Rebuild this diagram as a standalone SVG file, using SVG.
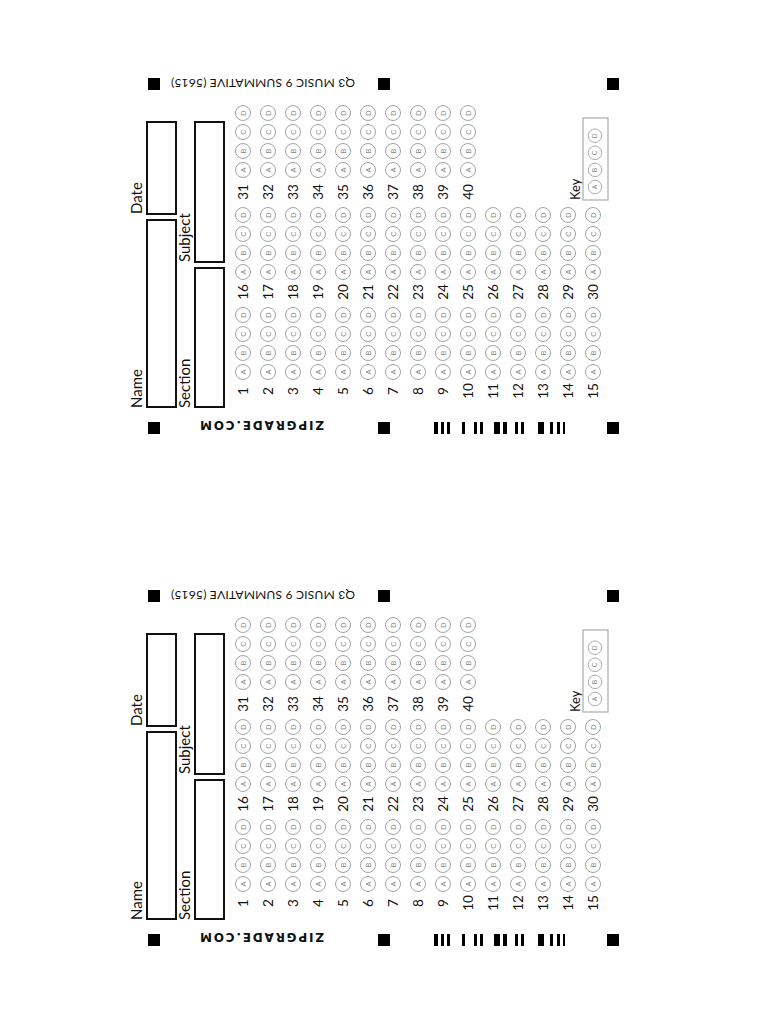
<svg xmlns="http://www.w3.org/2000/svg" xmlns:xlink="http://www.w3.org/1999/xlink" width="768" height="1024" viewBox="0 0 768 1024">
<style>
.n{font-family:Lato,"Liberation Sans",sans-serif;font-size:13.5px;fill:#111;text-anchor:middle}
.l{font-family:"Liberation Sans",sans-serif;font-size:7.5px;fill:#888;text-anchor:middle}
.c{fill:#fff;stroke:#999;stroke-width:0.9}
.lab{font-family:Lato,"Liberation Sans",sans-serif;font-size:15px;fill:#111}
.box{fill:none;stroke:#111;stroke-width:2}
.m{fill:#000}
</style>
<defs>
<g id="q">
<circle class="c" cx="0" cy="0" r="7.5"/><text class="l" transform="translate(2.7,0) rotate(-90)">A</text>
<circle class="c" cx="0" cy="-19" r="7.5"/><text class="l" transform="translate(2.7,-19) rotate(-90)">B</text>
<circle class="c" cx="0" cy="-38" r="7.5"/><text class="l" transform="translate(2.7,-38) rotate(-90)">C</text>
<circle class="c" cx="0" cy="-57" r="7.5"/><text class="l" transform="translate(2.7,-57) rotate(-90)">D</text>
</g>
<g id="sheet">
<g id="markers">
<rect class="m" x="148" y="78" width="12" height="12"/><rect class="m" x="378" y="78" width="12" height="12"/><rect class="m" x="607" y="78" width="12" height="12"/>
<rect class="m" x="148" y="422" width="12" height="12"/><rect class="m" x="378" y="422" width="12" height="12"/><rect class="m" x="607" y="422" width="12" height="12"/>
</g>
<text transform="translate(263,79) rotate(180)" font-family="Lato,'Liberation Sans',sans-serif" font-size="12" fill="#111" text-anchor="middle" textLength="184">Q3 MUSIC 9 SUMMATIVE (5615)</text>
<text transform="translate(262,421) rotate(180)" font-family="'DejaVu Sans',sans-serif" font-weight="600" font-size="12" fill="#111" text-anchor="middle" textLength="124">ZIPGRADE.COM</text>
<g id="barcode" class="m">
<rect x="434" y="422" width="4" height="12"/><rect x="441" y="422" width="3" height="12"/><rect x="447" y="422" width="3" height="12"/><rect x="462" y="422" width="3" height="12"/><rect x="474" y="422" width="3" height="12"/><rect x="480" y="422" width="3" height="12"/><rect x="494" y="422" width="6" height="12"/><rect x="503" y="422" width="4" height="12"/><rect x="515" y="422" width="3" height="12"/><rect x="521" y="422" width="3" height="12"/><rect x="538" y="422" width="6" height="12"/><rect x="550" y="422" width="3" height="12"/><rect x="557" y="422" width="3" height="12"/><rect x="563" y="422" width="2" height="12"/>
</g>
<g id="fields">
<rect class="box" x="147" y="220" width="29" height="187"/><text class="lab" transform="translate(142,408) rotate(-90)">Name</text>
<rect class="box" x="147" y="122" width="29" height="92"/><text class="lab" transform="translate(142,214) rotate(-90)">Date</text>
<rect class="box" x="195" y="268" width="29" height="139"/><text class="lab" transform="translate(190,408) rotate(-90)">Section</text>
<rect class="box" x="195" y="122" width="29" height="140"/><text class="lab" transform="translate(190,262) rotate(-90)">Subject</text>
</g>
<g id="key">
<rect x="583" y="118" width="25" height="82" fill="none" stroke="#aaa" stroke-width="1.2"/>
<use xlink:href="#q" transform="translate(595,187) scale(0.9)"/>
<text class="lab" style="font-size:13px" transform="translate(580,200) rotate(-90)">Key</text>
</g>
<g id="col1">
<g transform="translate(243,0)"><text class="n" transform="translate(4.5,391) rotate(-90)">1</text><use xlink:href="#q" y="372"/></g>
<g transform="translate(268,0)"><text class="n" transform="translate(4.5,391) rotate(-90)">2</text><use xlink:href="#q" y="372"/></g>
<g transform="translate(293,0)"><text class="n" transform="translate(4.5,391) rotate(-90)">3</text><use xlink:href="#q" y="372"/></g>
<g transform="translate(318,0)"><text class="n" transform="translate(4.5,391) rotate(-90)">4</text><use xlink:href="#q" y="372"/></g>
<g transform="translate(343,0)"><text class="n" transform="translate(4.5,391) rotate(-90)">5</text><use xlink:href="#q" y="372"/></g>
<g transform="translate(368,0)"><text class="n" transform="translate(4.5,391) rotate(-90)">6</text><use xlink:href="#q" y="372"/></g>
<g transform="translate(393,0)"><text class="n" transform="translate(4.5,391) rotate(-90)">7</text><use xlink:href="#q" y="372"/></g>
<g transform="translate(418,0)"><text class="n" transform="translate(4.5,391) rotate(-90)">8</text><use xlink:href="#q" y="372"/></g>
<g transform="translate(443,0)"><text class="n" transform="translate(4.5,391) rotate(-90)">9</text><use xlink:href="#q" y="372"/></g>
<g transform="translate(468,0)"><text class="n" transform="translate(4.5,391) rotate(-90)">10</text><use xlink:href="#q" y="372"/></g>
<g transform="translate(493,0)"><text class="n" transform="translate(4.5,391) rotate(-90)">11</text><use xlink:href="#q" y="372"/></g>
<g transform="translate(518,0)"><text class="n" transform="translate(4.5,391) rotate(-90)">12</text><use xlink:href="#q" y="372"/></g>
<g transform="translate(543,0)"><text class="n" transform="translate(4.5,391) rotate(-90)">13</text><use xlink:href="#q" y="372"/></g>
<g transform="translate(568,0)"><text class="n" transform="translate(4.5,391) rotate(-90)">14</text><use xlink:href="#q" y="372"/></g>
<g transform="translate(593,0)"><text class="n" transform="translate(4.5,391) rotate(-90)">15</text><use xlink:href="#q" y="372"/></g>
</g>
<g id="col2">
<g transform="translate(243,0)"><text class="n" transform="translate(4.5,292) rotate(-90)">16</text><use xlink:href="#q" y="272"/></g>
<g transform="translate(268,0)"><text class="n" transform="translate(4.5,292) rotate(-90)">17</text><use xlink:href="#q" y="272"/></g>
<g transform="translate(293,0)"><text class="n" transform="translate(4.5,292) rotate(-90)">18</text><use xlink:href="#q" y="272"/></g>
<g transform="translate(318,0)"><text class="n" transform="translate(4.5,292) rotate(-90)">19</text><use xlink:href="#q" y="272"/></g>
<g transform="translate(343,0)"><text class="n" transform="translate(4.5,292) rotate(-90)">20</text><use xlink:href="#q" y="272"/></g>
<g transform="translate(368,0)"><text class="n" transform="translate(4.5,292) rotate(-90)">21</text><use xlink:href="#q" y="272"/></g>
<g transform="translate(393,0)"><text class="n" transform="translate(4.5,292) rotate(-90)">22</text><use xlink:href="#q" y="272"/></g>
<g transform="translate(418,0)"><text class="n" transform="translate(4.5,292) rotate(-90)">23</text><use xlink:href="#q" y="272"/></g>
<g transform="translate(443,0)"><text class="n" transform="translate(4.5,292) rotate(-90)">24</text><use xlink:href="#q" y="272"/></g>
<g transform="translate(468,0)"><text class="n" transform="translate(4.5,292) rotate(-90)">25</text><use xlink:href="#q" y="272"/></g>
<g transform="translate(493,0)"><text class="n" transform="translate(4.5,292) rotate(-90)">26</text><use xlink:href="#q" y="272"/></g>
<g transform="translate(518,0)"><text class="n" transform="translate(4.5,292) rotate(-90)">27</text><use xlink:href="#q" y="272"/></g>
<g transform="translate(543,0)"><text class="n" transform="translate(4.5,292) rotate(-90)">28</text><use xlink:href="#q" y="272"/></g>
<g transform="translate(568,0)"><text class="n" transform="translate(4.5,292) rotate(-90)">29</text><use xlink:href="#q" y="272"/></g>
<g transform="translate(593,0)"><text class="n" transform="translate(4.5,292) rotate(-90)">30</text><use xlink:href="#q" y="272"/></g>
</g>
<g id="col3">
<g transform="translate(243,0)"><text class="n" transform="translate(4.5,192) rotate(-90)">31</text><use xlink:href="#q" y="170"/></g>
<g transform="translate(268,0)"><text class="n" transform="translate(4.5,192) rotate(-90)">32</text><use xlink:href="#q" y="170"/></g>
<g transform="translate(293,0)"><text class="n" transform="translate(4.5,192) rotate(-90)">33</text><use xlink:href="#q" y="170"/></g>
<g transform="translate(318,0)"><text class="n" transform="translate(4.5,192) rotate(-90)">34</text><use xlink:href="#q" y="170"/></g>
<g transform="translate(343,0)"><text class="n" transform="translate(4.5,192) rotate(-90)">35</text><use xlink:href="#q" y="170"/></g>
<g transform="translate(368,0)"><text class="n" transform="translate(4.5,192) rotate(-90)">36</text><use xlink:href="#q" y="170"/></g>
<g transform="translate(393,0)"><text class="n" transform="translate(4.5,192) rotate(-90)">37</text><use xlink:href="#q" y="170"/></g>
<g transform="translate(418,0)"><text class="n" transform="translate(4.5,192) rotate(-90)">38</text><use xlink:href="#q" y="170"/></g>
<g transform="translate(443,0)"><text class="n" transform="translate(4.5,192) rotate(-90)">39</text><use xlink:href="#q" y="170"/></g>
<g transform="translate(468,0)"><text class="n" transform="translate(4.5,192) rotate(-90)">40</text><use xlink:href="#q" y="170"/></g>
</g>
</g>
</defs>
<rect width="768" height="1024" fill="#fff"/>
<use id="sheet-top" xlink:href="#sheet"/>
<use id="sheet-bottom" xlink:href="#sheet" y="512"/>
</svg>
